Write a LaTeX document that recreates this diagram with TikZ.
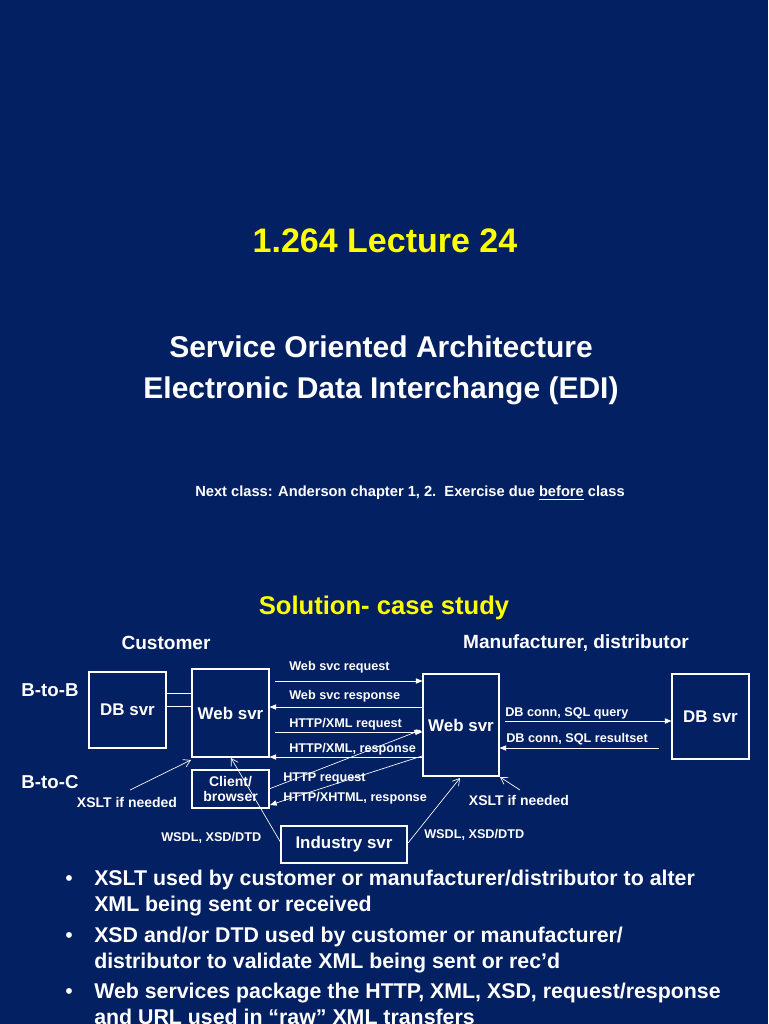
\documentclass[tikz,border=0pt]{standalone}
\usepackage{fontspec}
\setmainfont{Liberation Sans}
\usetikzlibrary{arrows.meta}
\definecolor{bg}{HTML}{032062}
\definecolor{ttl}{HTML}{FFFF00}
\begin{document}
\begin{tikzpicture}[x=0.75pt,y=-0.75pt,font=\bfseries,
  box/.style={draw=white,line width=0.8pt,text=white,inner sep=0pt},
  lab/.style={text=white,font=\bfseries\fontsize{9.5}{11}\selectfont,anchor=west,inner sep=0pt},
  ar/.style={draw=white,line width=0.5pt,-{Triangle[length=5pt,width=4pt]}},
  thin/.style={draw=white,line width=0.5pt,-{Straight Barb[length=5pt,width=6pt]}},
  bul/.style={text=white,font=\bfseries\fontsize{16}{19}\selectfont,anchor=north west,inner sep=0pt,align=left}]
\useasboundingbox (0,0) rectangle (768,1024);
\clip (0,0) rectangle (768,1024);
\fill[bg] (0,0) rectangle (768,1024);
\node[text=ttl,font=\bfseries\fontsize{25.5}{27}\selectfont] (title) at (385,241) {1.264 Lecture 24};
\node[text=white,font=\bfseries\fontsize{22.5}{31}\selectfont,align=center] (sub) at (381,370) {Service Oriented Architecture\\Electronic Data Interchange (EDI)};
\node[text=white,font=\bfseries\fontsize{11}{12}\selectfont] (next) at (410,493) {Next class: Anderson chapter 1, 2.\ \ Exercise due \underline{before} class};
\node[text=ttl,font=\bfseries\fontsize{19.2}{22}\selectfont] (sol) at (384,608) {Solution- case study};
\node[text=white,font=\bfseries\fontsize{14.3}{16}\selectfont] (cust) at (166,643) {Customer};
\node[text=white,font=\bfseries\fontsize{14.3}{16}\selectfont] (manu) at (576,643) {Manufacturer, distributor};
\node[text=white,font=\bfseries\fontsize{14}{16}\selectfont] (b2b) at (50,690) {B-to-B};
\node[text=white,font=\bfseries\fontsize{14}{16}\selectfont] (b2c) at (50,782) {B-to-C};
\begin{scope}[font=\bfseries\fontsize{12.7}{13}\selectfont]
\node[box,minimum width=57.75pt,minimum height=57pt] (db1) at (127.5,710) {DB svr};
\node[box,minimum width=57.75pt,minimum height=66pt] (web1) at (230.5,713) {Web svr};
\node[box,minimum width=57.75pt,minimum height=28.5pt,align=center,font=\bfseries\fontsize{10.5}{11.5}\selectfont] (cli) at (230.5,789) {Client/\\browser};
\node[box,minimum width=94.5pt,minimum height=27.75pt] (ind) at (344,844.5) {Industry svr};
\node[box,minimum width=57pt,minimum height=76.5pt] (web2) at (461,725) {Web svr};
\node[box,minimum width=57.75pt,minimum height=63.75pt] (db2) at (710.5,716.5) {DB svr};
\end{scope}
\draw[white,line width=0.5pt] (db1.east|-0,693) -- (web1.west|-0,693);
\draw[white,line width=0.5pt] (db1.east|-0,706) -- (web1.west|-0,706);
\draw[ar] (275,681) -- (web2.west|-0,681);
\draw[ar] (web2.west|-0,707) -- (web1.east|-0,707);
\draw[ar] (275,732) -- (web2.west|-0,732);
\draw[ar] (web2.west|-0,757) -- (web1.east|-0,757);
\node[lab] (l1) at (289,667) {Web svc request};
\node[lab] (l2) at (289,696) {Web svc response};
\node[lab] (l3) at (289,724) {HTTP/XML request};
\node[lab] (l4) at (289,749) {HTTP/XML, response};
\coordinate (c1) at (269,789);
\coordinate (c2) at (421,730);
\draw[ar] (c1) -- (c2);
\coordinate (c3) at (422,756);
\coordinate (c4) at (270,805);
\draw[ar] (c3) -- (c4);
\node[lab] (l5) at (283,778) {HTTP request};
\node[lab] (l6) at (283,798) {HTTP/XHTML, response};
\coordinate (x1) at (130,790);
\coordinate (x1e) at (191,760);
\draw[thin] (x1) -- (x1e);
\node[lab,anchor=center,font=\bfseries\fontsize{10.5}{12}\selectfont] (xs1) at (127,802) {XSLT if needed};
\coordinate (i1) at (281,843);
\coordinate (i1e) at (231,758);
\draw[thin] (i1) -- (i1e);
\coordinate (i2) at (408,843);
\coordinate (i2e) at (460,778);
\draw[thin] (i2) -- (i2e);
\node[lab] (w1) at (161,838) {WSDL, XSD/DTD};
\node[lab] (w2) at (424,835) {WSDL, XSD/DTD};
\draw[ar] (505,721) -- (db2.west|-0,721);
\draw[ar] (659,748) -- (web2.east|-0,748);
\node[lab] (q1) at (505,713) {DB conn, SQL query};
\node[lab] (q2) at (506,739) {DB conn, SQL resultset};
\coordinate (x2) at (520,790);
\coordinate (x2e) at (500,777);
\draw[thin] (x2) -- (x2e);
\node[lab,anchor=center,font=\bfseries\fontsize{10.5}{12}\selectfont] (xs2) at (519,800) {XSLT if needed};
\node[bul] (b1) at (94,870) {XSLT used by customer or manufacturer/distributor to alter\\XML being sent or received};
\node[bul] (b2) at (94,927) {XSD and/or DTD used by customer or manufacturer/\\distributor to validate XML being sent or rec’d};
\node[bul] (b3) at (94,983) {Web services package the HTTP, XML, XSD, request/response\\and URL used in “raw” XML transfers};
\foreach \y in {881,938,994} \node[text=white,font=\fontsize{16}{16}\selectfont] at (69,\y) {•};
\end{tikzpicture}
\end{document}
